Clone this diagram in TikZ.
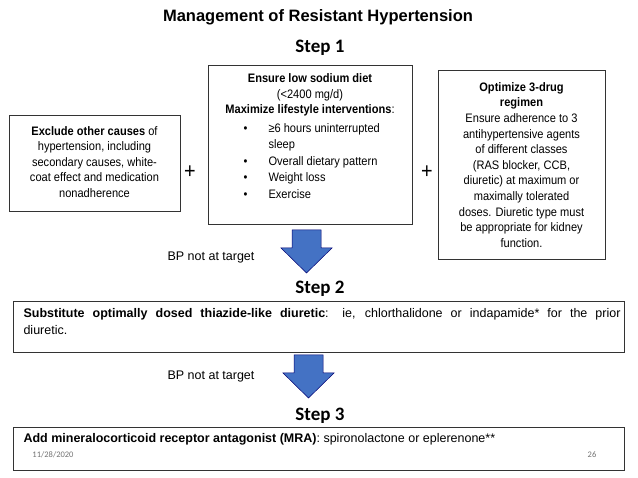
\documentclass[tikz,border=0pt]{standalone}
\usepackage{fontspec}
\setmainfont{Liberation Sans}[FakeStretch=0.9]
\newfontfamily\titlef{Liberation Sans}
\newfontfamily\calib{Carlito}
\begin{document}
\begin{tikzpicture}[x=1pt,y=-1pt,
  box/.style={draw=black!80,line width=0.8pt,inner sep=0pt},
  body/.style={font=\fontsize{12.3}{15.6}\selectfont,align=center},
  wide/.style={font=\titlef\fontsize{12.5}{17}\selectfont},
  steplbl/.style={font=\calib\bfseries\fontsize{19}{20}\selectfont},
  bp/.style={font=\titlef\fontsize{12.5}{15}\selectfont},
  plus/.style={font=\fontsize{22}{22}\selectfont},
  barrow/.style={draw=blue!45!black,fill={rgb,255:red,68;green,114;blue,196},line width=0.5pt}]
\useasboundingbox (0,0) rectangle (638,478);
\fill[white] (0,0) rectangle (638,478);
\node[font=\titlef\bfseries\fontsize{16.5}{18}\selectfont] (title) at (318,17) {Management of Resistant Hypertension};
\node[steplbl] (s1) at (320,48) {Step 1};
\draw[box] (9,115) rectangle (180,211);
\node[body] (left) at (94.5,162) {\textbf{Exclude other causes} of\\hypertension, including\\secondary causes, white-\\coat effect and medication\\nonadherence};
\node[plus] (p1) at (190,172) {+};
\draw[box] (208,65) rectangle (412,224);
\node[body] (midtop) at (310,95) {\textbf{Ensure low sodium diet}\\(<2400 mg/d)\\\textbf{Maximize lifestyle interventions}:};
\node[font=\fontsize{12.3}{16.5}\selectfont,align=left,anchor=north west] (mid) at (240,120) {%
\makebox[25pt][l]{•}≥6 hours uninterrupted\\\hspace*{25pt}sleep\\\makebox[25pt][l]{•}Overall dietary pattern\\\makebox[25pt][l]{•}Weight loss\\\makebox[25pt][l]{•}Exercise};
\node[plus] (p2) at (427,172) {+};
\draw[box] (438,70) rectangle (605,259);
\node[body] (right) at (521.5,165) {\textbf{Optimize 3-drug}\\\textbf{regimen}\\Ensure adherence to 3\\antihypertensive agents\\of different classes\\(RAS blocker, CCB,\\diuretic) at maximum or\\maximally tolerated\\doses. Diuretic type must\\be appropriate for kidney\\function.};
\path[barrow] (292,230) -- (321,230) -- (321,248) -- (332,248) -- (306.5,273) -- (281,248) -- (292,248) -- cycle;
\node[bp] (bp1) at (211,257) {BP not at target};
\node[steplbl] (s2) at (320,289) {Step 2};
\draw[box] (13,301) rectangle (624,352);
\node[wide,align=justify,text width=597pt,anchor=north west] (b2) at (20,305) {\textbf{Substitute optimally dosed thiazide-like diuretic}: ie, chlorthalidone or indapamide* for the prior\linebreak diuretic.};
\path[barrow] (294,355) -- (323,355) -- (323,373) -- (334,373) -- (308.5,398) -- (283,373) -- (294,373) -- cycle;
\node[bp] (bp2) at (211,376) {BP not at target};
\node[steplbl] (s3) at (320,416) {Step 3};
\draw[box] (13,427) rectangle (624,470);
\node[wide,anchor=west] (b3) at (20,439) {\textbf{Add mineralocorticoid receptor antagonist (MRA)}: spironolactone or eplerenone**};
\node[font=\calib\fontsize{8.5}{9}\selectfont,text=black!55] (date) at (53,455) {11/28/2020};
\node[font=\calib\fontsize{8.5}{9}\selectfont,text=black!55] (pg) at (592,455) {26};
\end{tikzpicture}
\end{document}
